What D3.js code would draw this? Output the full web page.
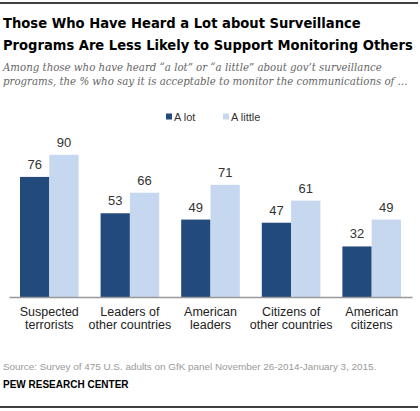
<!DOCTYPE html>
<html>
<head>
<meta charset="utf-8">
<script src="https://cdn.jsdelivr.net/npm/d3@7"></script>
<style>
  body { margin: 0; background: #fff; }
  svg { display: block; }
</style>
</head>
<body>
<svg id="chart"></svg>
<script>
// chart data
const categories = [
  ["Suspected", "terrorists"],
  ["Leaders of", "other countries"],
  ["American", "leaders"],
  ["Citizens of", "other countries"],
  ["American", "citizens"]
];
const seriesNames = ["A lot", "A little"];
const aLot = [76, 53, 49, 47, 32];
const aLittle = [90, 66, 71, 61, 49];
const colors = ["#234a7c", "#c6d8ef"];

const width = 420, height = 411;
const margin = {top: 139, bottom: 297, left: 9, right: 412};

const svg = d3.select("#chart")
  .attr("width", width)
  .attr("height", height);

// shrink/grow font so the text's natural width hits the target
function fitWidth(sel, target, baseSize) {
  sel.each(function(d) {
    const t = d3.select(this).style("font-size", baseSize + "px");
    const w = this.getComputedTextLength();
    const w0 = typeof target === "function" ? target(d) : target;
    t.style("font-size", (baseSize * w0 / w).toFixed(2) + "px");
  });
}

// rules at top and bottom
svg.append("line").attr("x1", 0).attr("x2", 418).attr("y1", 3).attr("y2", 3)
  .attr("stroke", "#000").attr("stroke-width", 1.5);
svg.append("line").attr("x1", 0).attr("x2", 418).attr("y1", 407).attr("y2", 407)
  .attr("stroke", "#000").attr("stroke-width", 1.5);

// title
const titleLines = [
  {text: "Those Who Have Heard a Lot about Surveillance", y: 28, w: 358},
  {text: "Programs Are Less Likely to Support Monitoring Others", y: 50, w: 410}
];
const titles = svg.selectAll(".title").data(titleLines).join("text")
  .attr("class", "title")
  .attr("x", 3).attr("y", d => d.y)
  .style("font-family", "'DejaVu Sans Condensed', 'Liberation Sans Narrow', 'Liberation Sans', sans-serif")
  .style("font-stretch", "condensed")
  .style("font-weight", "bold").style("fill", "#000")
  .text(d => d.text);
fitWidth(titles, d => d.w, 18);

// subtitle
const subLines = [
  {text: "Among those who have heard \u201ca lot\u201d or \u201ca little\u201d about gov\u2019t surveillance", y: 71, w: 386},
  {text: "programs, the % who say it is acceptable to monitor the communications of \u2026", y: 85, w: 405}
];
const subs = svg.selectAll(".sub").data(subLines).join("text")
  .attr("class", "sub")
  .attr("x", 3).attr("y", d => d.y)
  .style("font-family", "'DejaVu Serif', Georgia, serif")
  .style("font-style", "italic").style("fill", "#666")
  .text(d => d.text);
// use one size for both lines so they look alike
fitWidth(subs.filter((d, i) => i === 1), 405, 12);
subs.style("font-size", subs.filter((d, i) => i === 1).style("font-size"));

// scales
const x0 = d3.scaleBand()
  .domain(d3.range(categories.length))
  .range([margin.left, margin.right])
  .padding(0);

const x1 = d3.scaleBand()
  .domain(seriesNames)
  .range([0, x0.bandwidth()])
  .paddingInner(0)
  .paddingOuter(0.375);

const y = d3.scaleLinear()
  .domain([0, 100])
  .range([margin.bottom, margin.top]);

const rows = categories.map((c, i) => ({
  i: i,
  values: [
    {key: seriesNames[0], value: aLot[i]},
    {key: seriesNames[1], value: aLittle[i]}
  ]
}));

const groups = svg.selectAll(".group").data(rows).join("g")
  .attr("class", "group")
  .attr("transform", d => `translate(${x0(d.i)},0)`);

groups.selectAll("rect").data(d => d.values).join("rect")
  .attr("x", d => x1(d.key))
  .attr("y", d => y(d.value))
  .attr("width", x1.bandwidth())
  .attr("height", d => y(0) - y(d.value))
  .attr("fill", (d, j) => colors[j]);

groups.selectAll(".val").data(d => d.values).join("text")
  .attr("class", "val")
  .attr("x", d => x1(d.key) + x1.bandwidth() / 2)
  .attr("y", d => y(d.value) - 8)
  .attr("text-anchor", "middle")
  .style("font-family", "'Liberation Sans', Arial, sans-serif")
  .style("font-size", "13px").style("fill", "#333")
  .text(d => d.value);

// x axis
const xAxisG = svg.append("g")
  .attr("transform", `translate(0,${margin.bottom})`)
  .call(d3.axisBottom(x0).tickSize(0).tickSizeOuter(0).tickFormat(""));
xAxisG.select(".domain").attr("stroke", "#999").attr("stroke-width", 1.5);

// category labels
const catLabels = svg.selectAll(".cat").data(categories).join("text")
  .attr("class", "cat")
  .attr("text-anchor", "middle")
  .style("font-family", "'Liberation Sans', Arial, sans-serif")
  .style("font-size", "12.5px").style("fill", "#222");
catLabels.selectAll("tspan").data((d, i) => d.map(t => ({t: t, i: i}))).join("tspan")
  .attr("x", d => x0(d.i) + x0.bandwidth() / 2)
  .attr("y", (d, k) => 316 + k * 13)
  .text(d => d.t);

// legend
const legend = svg.append("g").attr("transform", "translate(166,117)");
const legItems = [{name: seriesNames[0], x: 0}, {name: seriesNames[1], x: 57}];
legItems.forEach((d, j) => {
  legend.append("rect").attr("x", d.x).attr("y", -3.5).attr("width", 6).attr("height", 6)
    .attr("fill", colors[j]);
  legend.append("text").attr("x", d.x + 8).attr("y", 4)
    .style("font-family", "'Liberation Sans', Arial, sans-serif")
    .style("font-size", "11px").style("fill", "#333")
    .text(d.name);
});

// source & credit
const source = svg.append("text").attr("x", 3).attr("y", 370)
  .style("font-family", "'Liberation Sans', Arial, sans-serif")
  .style("fill", "#999")
  .text("Source: Survey of 475 U.S. adults on GfK panel November 26-2014-January 3, 2015.");
fitWidth(source, 374, 10.5);
svg.append("text").attr("x", 3).attr("y", 388)
  .style("font-family", "'Liberation Sans', Arial, sans-serif")
  .style("font-size", "10px").style("font-weight", "bold").style("fill", "#000")
  .text("PEW RESEARCH CENTER");
</script>
</body>
</html>
